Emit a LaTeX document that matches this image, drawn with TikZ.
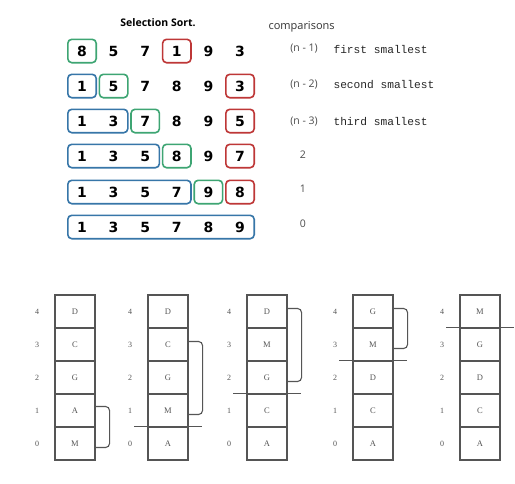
\documentclass[tikz,border=0pt]{standalone}
\usepackage{fontspec}
\setmainfont{Liberation Serif}
\newfontfamily\digitfont{DejaVu Sans}
\newfontfamily\labelfont{Open Sans}
\newfontfamily\codefont{Liberation Mono}
\usetikzlibrary{fit}
\definecolor{sortgreen}{RGB}{62,165,115}
\definecolor{sortblue}{RGB}{55,118,168}
\definecolor{sortred}{RGB}{190,55,55}
\definecolor{cellgray}{RGB}{85,85,85}
\tikzset{
      digit/.style={font=\digitfont\bfseries\fontsize{14}{14}\selectfont, minimum width=28pt, minimum height=23pt, inner sep=0pt},
      sorted/.style={draw=sortblue, line width=1.6pt, rounded corners=4pt, inner sep=0pt},
      current/.style={draw=sortgreen, line width=1.6pt, rounded corners=4pt, inner sep=0pt},
      smallest/.style={draw=sortred, line width=1.6pt, rounded corners=4pt, inner sep=0pt},
      count/.style={font=\labelfont\fontsize{10.5}{12}\selectfont, text=black!70},
      note/.style={anchor=west, font=\codefont\fontsize{11.2}{12}\selectfont, text=black!85},
      cell/.style={draw=cellgray, line width=1.1pt, minimum width=40pt, minimum height=33pt, inner sep=0pt,
            font=\fontsize{8.5}{9}\selectfont, text=cellgray},
      index/.style={font=\fontsize{8}{9}\selectfont, text=cellgray},
      bracket/.style={draw=cellgray, line width=1.1pt, rounded corners=4pt},
      cut/.style={draw=cellgray, line width=1.1pt},
}
\begin{document}
\begin{tikzpicture}[x=1pt, y=-1pt]
        \fill[white] (0,0) rectangle (515,483);
        \useasboundingbox (0,0) rectangle (515,483);

        % Selection sort on the numbers
        \node[font=\labelfont\bfseries\fontsize{10.5}{12}\selectfont] (title) at (158,23) {Selection Sort.};
        \node[anchor=west, font=\labelfont\fontsize{11}{12}\selectfont, text=black!80] (cmp) at (265,27) {comparisons};

        \foreach \row/\yy/\digits in {1/51/{8,5,7,1,9,3}, 2/86/{1,5,7,8,9,3}, 3/121/{1,3,7,8,9,5},
                  4/156/{1,3,5,8,9,7}, 5/192/{1,3,5,7,9,8}, 6/227/{1,3,5,7,8,9}}
              \foreach \d [count=\c] in \digits
                    \node[digit] (r\row-\c) at (50.4+31.6*\c, \yy) {\d};

        \node[current, fit=(r1-1)] (g1) {};
        \node[smallest, fit=(r1-4)] (m1) {};
        \node[sorted, fit=(r2-1)] (s2) {};
        \node[current, fit=(r2-2)] (g2) {};
        \node[smallest, fit=(r2-6)] (m2) {};
        \node[sorted, fit=(r3-1)(r3-2)] (s3) {};
        \node[current, fit=(r3-3)] (g3) {};
        \node[smallest, fit=(r3-6)] (m3) {};
        \node[sorted, fit=(r4-1)(r4-3)] (s4) {};
        \node[current, fit=(r4-4)] (g4) {};
        \node[smallest, fit=(r4-6)] (m4) {};
        \node[sorted, fit=(r5-1)(r5-4)] (s5) {};
        \node[current, fit=(r5-5)] (g5) {};
        \node[smallest, fit=(r5-6)] (m5) {};
        \node[sorted, fit=(r6-1)(r6-6)] (s6) {};

        % Comparisons per pass
        \node[count] (n1) at (304,49) {(n - 1)};
        \node[note] (f1) at (330,49) {first smallest};
        \node[count] (n2) at (304,85) {(n - 2)};
        \node[note] (f2) at (330,85) {second smallest};
        \node[count] (n3) at (304,122) {(n - 3)};
        \node[note] (f3) at (330,122) {third smallest};
        \node[count] (n4) at (303,155) {2};
        \node[count] (n5) at (303,189) {1};
        \node[count] (n6) at (303,224) {0};

        % Selection sort on the stacks
        \foreach \col/\xx/\letters in {1/55/{M,A,G,C,D}, 2/148/{A,M,G,C,D}, 3/247/{A,C,G,M,D},
                  4/353/{A,C,D,M,G}, 5/460/{A,C,D,G,M}}
              \foreach \l [count=\k from 0] in \letters {
                    \node[cell] (c\col-\k) at (\xx+20, 443.5-33*\k) {\l};
                    \node[index] (i\col-\k) at (\xx-18, 443.5-33*\k) {\k};
              }

        \draw[bracket] ([yshift=4pt]c1-1.east) -- ++(14,0) |- ([yshift=-4pt]c1-0.east);

        \draw[bracket] ([yshift=3pt]c2-3.east) -- ++(14,0) |- ([yshift=-4pt]c2-1.east);
        \draw[cut] ([xshift=-13pt]c2-0.north west) -- ([xshift=13pt]c2-0.north east);

        \draw[bracket] ([yshift=3pt]c3-4.east) -- ++(14,0) |- ([yshift=-4pt]c3-2.east);
        \draw[cut] ([xshift=-13pt]c3-1.north west) -- ([xshift=13pt]c3-1.north east);

        \draw[bracket] ([yshift=3pt]c4-4.east) -- ++(14,0) |- ([yshift=-4pt]c4-3.east);
        \draw[cut] ([xshift=-13pt]c4-2.north west) -- ([xshift=13pt]c4-2.north east);

        \draw[cut] ([xshift=-13pt]c5-3.north west) -- ([xshift=13pt]c5-3.north east);

    \end{tikzpicture}
\end{document}
